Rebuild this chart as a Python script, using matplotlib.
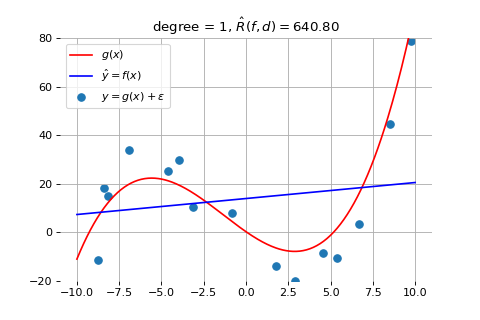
import matplotlib
matplotlib.use('Agg')
import matplotlib.pyplot as plt
import numpy as np

# cubic g(x) coefficients (highest power first)
g_coefs = [0.1, 0.405, -4.82, 0.2]
# fitted degree-1 model f(x)
f_coefs = [0.66, 13.9]
x_range = [-10, 10]

# noisy samples y = g(x) + eps
x_pts = [-8.73, -8.37, -8.14, -6.90, -4.59, -3.95, -3.12, -0.82,
         1.76, 2.88, 4.55, 5.37, 6.66, 8.50, 9.74]
y_pts = [-11.4, 18.4, 14.8, 34.1, 25.4, 29.6, 10.6, 8.1,
         -13.9, -20.2, -8.5, -10.6, 3.2, 44.8, 79.0]

fig, ax = plt.subplots(figsize=(6, 4), dpi=80)
fig.subplots_adjust(left=0.125, right=0.9, bottom=0.123, top=0.88)

xs = np.linspace(x_range[0], x_range[1], 300)
ax.plot(xs, np.polyval(g_coefs, xs), color='red', label=r'$g(x)$')
ax.plot(xs, np.polyval(f_coefs, xs), color='blue', label=r'$\hat{y} = f(x)$')
ax.scatter(x_pts, y_pts, s=45, color='C0', label=r'$y = g(x) + \varepsilon$')

ax.set_ylim(-20, 80)
ax.grid(True)
for s in ax.spines.values():
    s.set_visible(False)
ax.legend(loc='upper left')
ax.set_title(r'degree = 1, $\hat{R}(f, d) = 640.80$')

fig.savefig('out.png', dpi=80)
